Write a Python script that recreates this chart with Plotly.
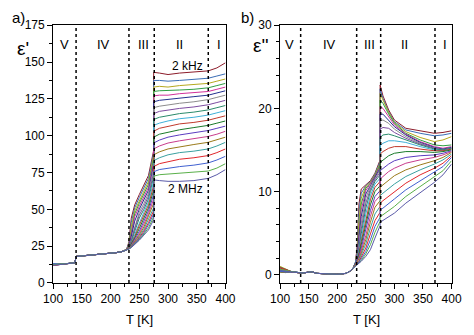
import plotly.graph_objects as go

# ---------------- data: epsilon' (panel a) ----------------
freq_labels = ["2 kHz", "2 MHz"]
T_low1 = [100, 110, 120, 130, 138, 140, 150, 170, 190, 210, 220, 225]
eps1_at100 = [12.0, 12.2, 11.9, 12.4, 12.1, 12.6, 11.8, 12.3, 12.9, 12.0,
              12.5, 12.2, 13.1, 11.9, 12.4, 12.7, 12.1, 12.8, 12.3, 12.0]
eps1_low_shared = [12.6, 13.0, 13.3, 13.7, 18.0, 18.3, 19.0, 19.8, 20.6, 21.3, 22.0]

T_III1 = [228, 232, 236, 242, 250, 258, 266, 275]
eps1_III = [
    [23.0, 28.0, 44.0, 53.0, 60.0, 66.0, 73.0, 90.0],
    [23.0, 27.0, 41.0, 51.0, 58.0, 64.0, 71.0, 88.0],
    [22.9, 26.0, 38.0, 49.0, 56.0, 62.0, 69.0, 86.0],
    [22.9, 25.5, 35.0, 47.0, 54.0, 60.0, 67.0, 84.0],
    [22.8, 25.0, 33.0, 45.0, 52.0, 58.0, 65.0, 82.0],
    [22.8, 24.5, 31.0, 42.0, 50.0, 56.0, 63.0, 80.0],
    [22.7, 24.3, 29.5, 39.0, 48.0, 54.0, 61.0, 78.0],
    [22.7, 24.1, 28.5, 37.0, 46.0, 52.0, 59.0, 75.0],
    [22.6, 24.0, 27.5, 35.0, 44.0, 50.0, 57.0, 72.0],
    [22.6, 23.8, 27.0, 33.0, 41.0, 48.0, 55.0, 69.0],
    [22.5, 23.7, 26.5, 31.5, 39.0, 46.0, 53.0, 66.0],
    [22.5, 23.6, 26.0, 30.5, 37.0, 44.0, 51.0, 63.0],
    [22.5, 23.5, 25.6, 29.5, 35.0, 42.0, 49.0, 60.0],
    [22.4, 23.4, 25.2, 28.8, 33.5, 40.0, 47.0, 57.0],
    [22.4, 23.3, 24.9, 28.2, 32.5, 38.0, 45.0, 54.0],
    [22.4, 23.2, 24.7, 27.6, 31.5, 36.5, 43.0, 51.0],
    [22.3, 23.2, 24.5, 27.1, 30.7, 35.2, 41.0, 49.0],
    [22.3, 23.1, 24.3, 26.7, 30.0, 34.0, 39.5, 47.0],
    [22.3, 23.1, 24.1, 26.3, 29.4, 33.2, 37.5, 45.0],
    [22.3, 23.0, 24.0, 26.0, 29.0, 32.5, 36.0, 43.0],
]

T_II1 = [275, 285, 300, 320, 345, 370, 385, 400]
eps1_II = [
    [143.0, 142.5, 141.5, 142.5, 143.0, 144.0, 146.0, 149.5],
    [137.5, 137.5, 137.0, 137.5, 138.0, 139.0, 140.5, 142.0],
    [133.0, 133.5, 133.0, 134.0, 134.5, 135.5, 137.0, 138.5],
    [130.0, 130.5, 130.5, 131.0, 131.5, 132.5, 134.0, 135.5],
    [127.0, 127.5, 127.5, 128.5, 129.0, 130.0, 131.5, 133.0],
    [123.0, 124.0, 124.5, 125.5, 126.5, 127.5, 129.0, 130.5],
    [119.0, 120.0, 121.0, 122.0, 123.0, 124.5, 126.0, 127.5],
    [115.0, 116.5, 117.5, 118.5, 119.5, 121.0, 122.5, 124.0],
    [111.0, 112.5, 113.5, 115.0, 116.0, 117.5, 119.0, 120.5],
    [107.0, 108.5, 110.0, 111.5, 112.5, 114.0, 115.5, 117.0],
    [103.0, 105.0, 106.5, 108.0, 109.0, 110.5, 112.0, 113.5],
    [99.0, 101.0, 102.5, 104.0, 105.5, 107.0, 108.5, 110.0],
    [95.0, 97.0, 99.0, 100.5, 102.0, 103.5, 105.0, 106.5],
    [91.0, 93.0, 95.0, 96.5, 98.0, 99.5, 101.0, 103.0],
    [87.0, 89.0, 91.0, 92.5, 94.0, 95.5, 97.0, 99.0],
    [83.0, 85.0, 87.0, 88.5, 89.5, 91.0, 93.0, 95.5],
    [79.0, 81.0, 82.5, 84.0, 85.0, 86.5, 88.5, 91.0],
    [75.5, 77.0, 78.0, 79.0, 80.0, 81.5, 83.5, 86.0],
    [72.5, 73.5, 74.0, 74.5, 75.0, 76.0, 78.0, 81.0],
    [70.0, 69.5, 69.0, 69.0, 69.5, 71.0, 73.5, 77.0],
]

# ---------------- data: epsilon'' (panel b) ----------------
T_low2 = [100, 110, 120, 130, 140, 150, 155, 165, 180, 200, 215, 222]
eps2_at100 = [0.9, 0.6, 1.0, 0.4, 0.8, 0.3, 0.7, 0.5, 0.9, 0.35,
              0.6, 0.8, 0.45, 0.7, 0.3, 0.55, 0.85, 0.4, 0.65, 0.5]
eps2_at110 = [0.6, 0.45, 0.7, 0.3, 0.55, 0.25, 0.5, 0.4, 0.65, 0.3,
              0.45, 0.6, 0.35, 0.5, 0.25, 0.4, 0.6, 0.3, 0.5, 0.4]
eps2_low_shared = [0.35, 0.25, 0.2, 0.3, 0.35, 0.15, 0.08, 0.05, 0.15, 0.4]

T_III2 = [228, 232, 235, 238, 242, 250, 258, 266, 275]
eps2_III = [
    [0.8, 1.5, 3.5, 8.5, 10.3, 10.8, 11.3, 12.2, 13.8],
    [0.8, 1.5, 3.2, 7.5, 9.8, 10.7, 11.2, 12.1, 13.6],
    [0.8, 1.5, 3.0, 6.5, 9.2, 10.6, 11.1, 12.0, 13.4],
    [0.8, 1.5, 2.8, 5.6, 8.5, 10.4, 11.0, 11.9, 13.2],
    [0.8, 1.5, 2.6, 4.8, 7.8, 10.1, 10.9, 11.8, 13.0],
    [0.8, 1.4, 2.4, 4.2, 7.0, 9.7, 10.8, 11.7, 12.8],
    [0.8, 1.4, 2.3, 3.7, 6.2, 9.2, 10.6, 11.6, 12.6],
    [0.8, 1.4, 2.2, 3.3, 5.5, 8.6, 10.3, 11.4, 12.3],
    [0.8, 1.4, 2.1, 3.0, 4.9, 8.0, 10.0, 11.2, 12.0],
    [0.8, 1.4, 2.0, 2.8, 4.4, 7.3, 9.5, 10.9, 11.6],
    [0.8, 1.3, 1.9, 2.6, 4.0, 6.6, 9.0, 10.5, 11.2],
    [0.8, 1.3, 1.8, 2.4, 3.6, 6.0, 8.4, 10.0, 10.7],
    [0.8, 1.3, 1.7, 2.2, 3.2, 5.3, 7.7, 9.4, 10.1],
    [0.8, 1.2, 1.6, 2.0, 2.9, 4.7, 7.0, 8.8, 9.5],
    [0.8, 1.2, 1.5, 1.9, 2.6, 4.2, 6.3, 8.1, 8.9],
    [0.8, 1.1, 1.4, 1.7, 2.3, 3.7, 5.6, 7.3, 8.2],
    [0.8, 1.1, 1.3, 1.6, 2.1, 3.2, 4.9, 6.5, 7.5],
    [0.8, 1.0, 1.3, 1.5, 1.9, 2.8, 4.2, 5.8, 6.9],
    [0.8, 1.0, 1.2, 1.4, 1.7, 2.5, 3.6, 5.1, 6.4],
    [0.8, 1.0, 1.2, 1.4, 1.6, 2.2, 3.0, 4.4, 5.9],
]

T_II2 = [275, 280, 290, 300, 320, 345, 370, 385, 400]
eps2_II = [
    [22.8, 21.5, 19.8, 18.6, 17.6, 17.3, 17.0, 17.1, 17.3],
    [22.3, 21.2, 19.6, 18.4, 17.4, 17.0, 16.7, 16.8, 17.0],
    [21.8, 21.0, 19.5, 18.3, 17.2, 16.5, 16.0, 16.2, 16.6],
    [21.0, 20.6, 19.3, 18.2, 17.0, 16.2, 15.6, 15.5, 15.6],
    [20.2, 20.0, 19.0, 18.0, 16.9, 16.0, 15.4, 15.2, 15.4],
    [19.3, 19.3, 18.6, 17.8, 16.8, 15.9, 15.3, 15.1, 15.3],
    [18.5, 18.6, 18.2, 17.5, 16.6, 15.8, 15.2, 15.0, 15.2],
    [17.5, 17.7, 17.6, 17.1, 16.4, 15.7, 15.2, 15.0, 15.2],
    [16.5, 16.8, 16.9, 16.7, 16.2, 15.6, 15.1, 15.0, 15.2],
    [15.5, 15.8, 16.1, 16.1, 15.9, 15.4, 15.0, 14.9, 15.1],
    [14.5, 14.8, 15.2, 15.4, 15.4, 15.1, 14.9, 14.9, 15.1],
    [13.5, 13.8, 14.3, 14.6, 14.8, 14.8, 14.7, 14.8, 15.0],
    [12.5, 12.8, 13.3, 13.7, 14.1, 14.3, 14.4, 14.6, 14.9],
    [11.5, 11.8, 12.4, 12.8, 13.4, 13.8, 14.1, 14.4, 14.8],
    [10.5, 10.8, 11.4, 11.9, 12.6, 13.2, 13.7, 14.1, 14.7],
    [9.5, 9.8, 10.4, 10.9, 11.8, 12.6, 13.3, 13.8, 14.5],
    [8.6, 8.9, 9.4, 10.0, 11.0, 12.0, 12.8, 13.4, 14.3],
    [7.8, 8.0, 8.5, 9.1, 10.2, 11.3, 12.3, 13.0, 14.1],
    [7.0, 7.2, 7.7, 8.2, 9.4, 10.6, 11.7, 12.5, 13.7],
    [6.3, 6.5, 6.9, 7.4, 8.6, 9.9, 11.1, 12.0, 13.3],
]

# phase boundaries and labels
bounds_a = [140, 232, 276, 370]
bounds_b = [136, 234, 276, 371]
phase_names = ["V", "IV", "III", "II", "I"]
phase_pos_a = [120, 187, 257, 320, 388]
phase_pos_b = [117, 186, 256, 318, 388]

colors = ["#8c1c2a", "#3a6db5", "#b5a81f", "#2f9e44", "#d0309a", "#23318f",
          "#8c8c8c", "#7d4ba0", "#2a8a6a", "#3fb0d8", "#c0392b", "#1a7a2a",
          "#5a3cc0", "#c83c8c", "#9a7a1a", "#3aa0a0", "#e0262b", "#4060d0",
          "#5ab04a", "#5a5aa8"]

fig = go.Figure()
n = len(eps1_II)
for i in range(n):
    x1 = T_low1 + T_III1 + T_II1
    y1 = [eps1_at100[i]] + eps1_low_shared + eps1_III[i] + eps1_II[i]
    fig.add_trace(go.Scatter(x=x1, y=y1, mode="lines", xaxis="x", yaxis="y",
                             line=dict(color=colors[i], width=1), showlegend=False))
for i in range(n):
    x2 = T_low2 + T_III2 + T_II2
    y2 = [eps2_at100[i], eps2_at110[i]] + eps2_low_shared + eps2_III[i] + eps2_II[i]
    fig.add_trace(go.Scatter(x=x2, y=y2, mode="lines", xaxis="x2", yaxis="y2",
                             line=dict(color=colors[i], width=1), showlegend=False))

font = "Liberation Sans, Arial, sans-serif"
ydom = [0.1403, 0.9433]
common_x = dict(range=[100, 400], dtick=50, tick0=100, ticks="outside", ticklen=5,
                tickwidth=1, showline=True, linecolor="black", linewidth=1, mirror=True,
                showgrid=False, zeroline=False, tickfont=dict(size=12, color="black"),
                minor=dict(ticks="outside", dtick=25, ticklen=3, tickcolor="black"),
                tickcolor="black")
top_x = dict(range=[100, 400], dtick=50, tick0=100, ticks="inside", ticklen=5,
             showticklabels=False, showgrid=False, zeroline=False, showline=False,
             side="top", tickcolor="black",
             minor=dict(ticks="inside", dtick=25, ticklen=3, tickcolor="black"))

fig.update_layout(
    width=474, height=335, margin=dict(l=0, r=0, t=0, b=0),
    paper_bgcolor="white", plot_bgcolor="white",
    font=dict(family=font, color="black"),
    xaxis=dict(domain=[0.0949, 0.4747], anchor="y", **common_x),
    yaxis=dict(domain=ydom, anchor="x", range=[0, 175], dtick=25, tick0=0,
               ticks="outside", ticklen=5, tickcolor="black", showline=True,
               linecolor="black", linewidth=1, mirror=True, showgrid=False,
               zeroline=False, tickfont=dict(size=12, color="black"),
               minor=dict(ticks="outside", dtick=12.5, ticklen=3, tickcolor="black")),
    xaxis2=dict(domain=[0.5949, 0.9726], anchor="y2", **common_x),
    yaxis2=dict(domain=ydom, anchor="x2", range=[-1, 30], dtick=10, tick0=0,
                ticks="outside", ticklen=5, tickcolor="black", showline=True,
                linecolor="black", linewidth=1, mirror=True, showgrid=False,
                zeroline=False, tickfont=dict(size=12, color="black"),
                minor=dict(ticks="outside", dtick=2, ticklen=3, tickcolor="black")),
    xaxis3=dict(overlaying="x", anchor="y", **top_x),
    xaxis4=dict(overlaying="x2", anchor="y2", **top_x),
)

shapes = []
for b in bounds_a:
    shapes.append(dict(type="line", xref="x", yref="y domain", x0=b, x1=b, y0=0, y1=1,
                       line=dict(color="black", width=1.5, dash="dot")))
for b in bounds_b:
    shapes.append(dict(type="line", xref="x2", yref="y2 domain", x0=b, x1=b, y0=0, y1=1,
                       line=dict(color="black", width=1.5, dash="dot")))
fig.update_layout(shapes=shapes)

ann = []
mid = dict(showarrow=False, xanchor="center", yanchor="middle")
for name, xp in zip(phase_names, phase_pos_a):
    ann.append(dict(x=xp, y=162, xref="x", yref="y", text=name,
                    font=dict(size=13), **mid))
for name, xp in zip(phase_names, phase_pos_b):
    ann.append(dict(x=xp, y=27.7, xref="x2", yref="y2", text=name,
                    font=dict(size=13), **mid))
ann.append(dict(x=333, y=147.5, xref="x", yref="y", text=freq_labels[0],
                font=dict(size=12), **mid))
ann.append(dict(x=330, y=64, xref="x", yref="y", text=freq_labels[1],
                font=dict(size=12), **mid))
ann.append(dict(x=0, y=1.0, xref="paper", yref="paper", text="a)", showarrow=False,
                xanchor="left", yanchor="top", font=dict(size=15)))
ann.append(dict(x=0.505, y=1.0, xref="paper", yref="paper", text="b)", showarrow=False,
                xanchor="left", yanchor="top", font=dict(size=15)))
ann.append(dict(x=14 / 474, y=1 - 43 / 335, xref="paper", yref="paper", text="ε'",
                font=dict(size=19), **mid))
ann.append(dict(x=262 / 474, y=1 - 40 / 335, xref="paper", yref="paper", text="ε''",
                font=dict(size=19), **mid))
ann.append(dict(x=135 / 474, y=1 - 326 / 335, xref="paper", yref="paper", text="T [K]",
                font=dict(size=13), **mid))
ann.append(dict(x=372 / 474, y=1 - 326 / 335, xref="paper", yref="paper", text="T [K]",
                font=dict(size=13), **mid))
fig.update_layout(annotations=ann)

fig.write_html("out.html")
